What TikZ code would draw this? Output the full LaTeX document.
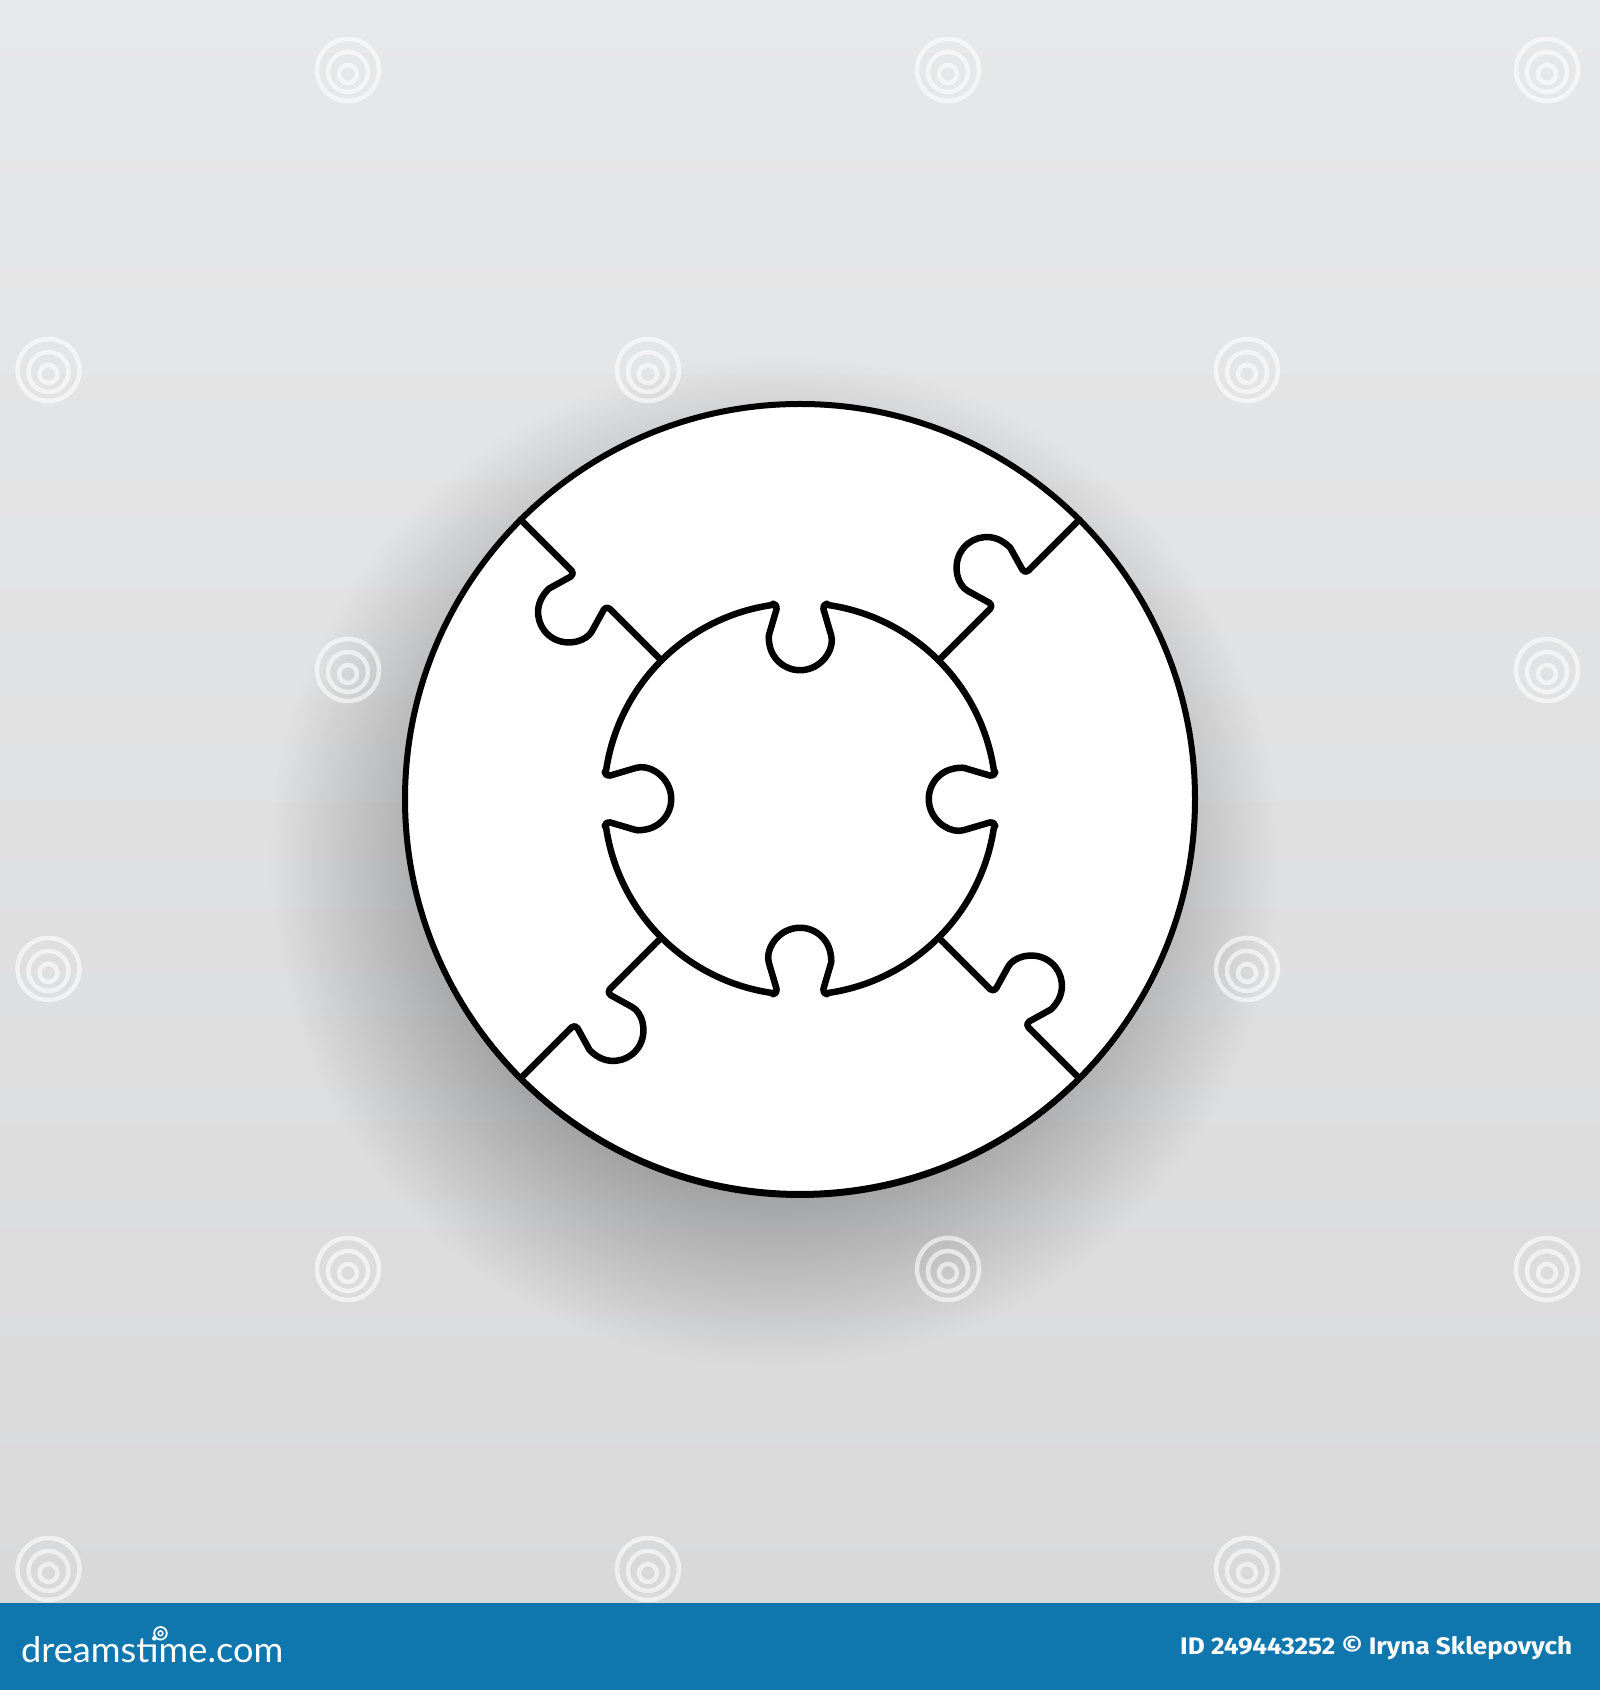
\documentclass[tikz,border=0pt]{standalone}
\usepackage{fontspec}
\usepackage{graphicx}
\setsansfont{Fira Sans}
\newfontfamily\logofont{Lato}
\definecolor{bgtop}{RGB}{231,232,233}
\definecolor{bgbot}{RGB}{217,217,218}
\definecolor{barblue}{RGB}{16,119,174}
\tikzset{
  piece/.style={line width=6.5pt, line cap=round, line join=round, draw=black, rounded corners=5pt},
  rim/.style={line width=6pt, draw=black, fill=white},
  bartext/.style={anchor=base west, inner sep=0pt, text=white},
  wmring/.style={draw=white, line width=4.5pt, opacity=0.6},
}
% knob in local frame: s along the cut, t towards the knob
\newcommand{\innerknob}{(-27,-0.5) -- (-22,0) -- (-29.74,26.24) arc[start angle=196.42, end angle=-16.42, radius=31] -- (22,0) -- (27,-0.5)}
\newcommand{\sepknob}{(-100,0) -- (-22,0) -- (-28.83,23.69) arc[start angle=196.08, end angle=-16.08, radius=30] -- (22,0) -- (99,0)}
\begin{document}
\begin{tikzpicture}[x=1pt,y=1pt]
\useasboundingbox (0,0) rectangle (1600,1690);
% background
\shade[top color=bgtop, bottom color=bgbot] (0,87) rectangle (1600,1690);
% soft shadow
\foreach \i in {0,...,61} \fill[black, opacity=0.0056] (775,828) circle ({505-3*\i});
% faint watermark spirals
\foreach \wx/\wy in {348/70, 948/70, 1547/70, 48.5/370, 648/370, 1247/370,
                     348/670, 948/670, 1547/670, 48.5/969, 648/969, 1247/969,
                     348/1269, 948/1269, 1547/1269, 48.5/1569, 648/1569, 1247/1569} {
  \begin{scope}[shift={(\wx,1690-\wy)}]
    \draw[wmring] (0,0) circle (31);
    \draw[wmring] (0,-2) circle (20);
    \draw[wmring] (0,-4) circle (9);
  \end{scope}
}
% bottom bar
\fill[barblue] (0,0) rectangle (1600,87);
% puzzle
\begin{scope}[shift={(800,891)}]
  \coordinate (c) at (0,0);
  \fill[black] (0,-2.5) circle (396.5);
  \path[rim] (c) circle (395);
  \foreach \p in {0,90,180,270} {
    \draw[piece] (\p+7.6:196) arc[start angle=\p+7.6, end angle=\p+82.4, radius=196];
    \begin{scope}[shift={(\p:194.76)}, rotate=\p+90]
      \draw[piece] \innerknob;
    \end{scope}
  }
  \foreach \q in {45,135,225,315} {
    \begin{scope}[shift={(\q:296)}, rotate=\q]
      \draw[piece] \sepknob;
    \end{scope}
  }
\end{scope}
% bar texts
\node[bartext] (logo) at (21,27.3) {\resizebox{262pt}{26pt}{\logofont dreamstime.com}};
\draw[white, line width=1.8pt] (160.5,56.7) circle (6.3);
\draw[white, line width=1.5pt] (160.5,56.7) circle (2.4);
\node[bartext] (credit) at (1180,35.7) {\resizebox{392pt}{18.3pt}{\sffamily\bfseries ID 249443252 © Iryna Sklepovych}};
\end{tikzpicture}
\end{document}
